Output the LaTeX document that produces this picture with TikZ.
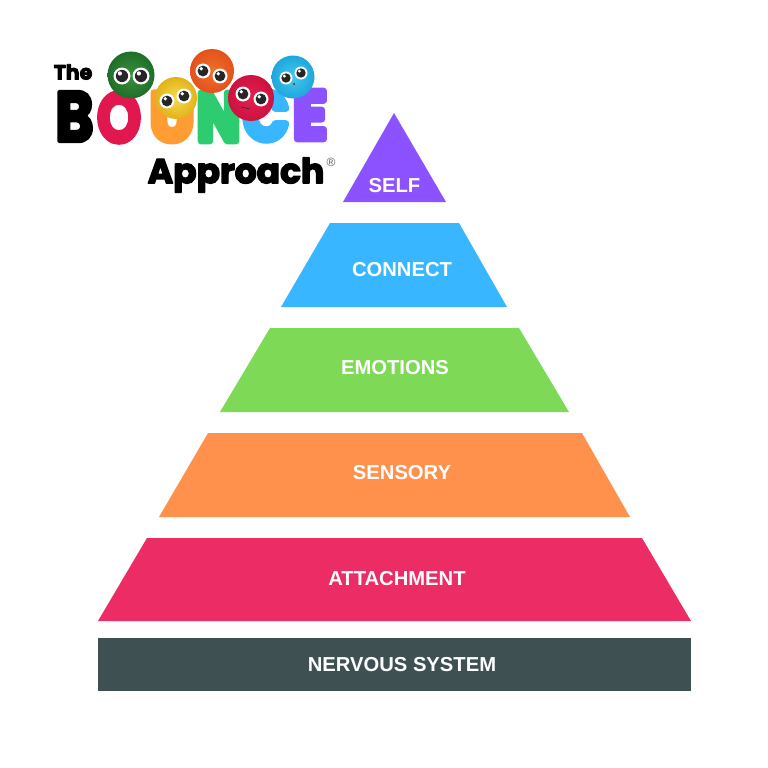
\documentclass[tikz,border=0pt]{standalone}
\usepackage{fontspec}
\setmainfont{Liberation Sans}
\newfontfamily\logofont[FakeBold=10]{Poppins Bold}
\newfontfamily\logothin[FakeBold=5]{Poppins Bold}
\newfontfamily\appfont[FakeBold=4]{Poppins Bold}
\definecolor{cself}{HTML}{8C52FF}
\definecolor{cconn}{HTML}{38B6FF}
\definecolor{cemo}{HTML}{7ED957}
\definecolor{csens}{HTML}{FF914D}
\definecolor{catt}{HTML}{EC2C64}
\definecolor{cnerv}{HTML}{3F5053}
\definecolor{lred}{HTML}{E3174F}
\definecolor{lorange}{HTML}{FF9D33}
\definecolor{lgreen}{HTML}{2ECC71}
\tikzset{
  tier/.style={fill=#1,draw=none},
  tierlabel/.style={text=white,font=\fontsize{20.2}{21}\selectfont\bfseries,inner sep=0pt,anchor=center},
  letter/.style={text=#1,inner sep=0pt,font=\fontsize{68}{68}\logofont,anchor=center,transform shape},
  thinletter/.style={text=#1,inner sep=0pt,font=\fontsize{71}{71}\logothin,anchor=center,transform shape},
  fuzzball/.style 2 args={inner color=#1,outer color=#2},
}
\newcommand{\eyeball}[3]{%
  \fill[white] (#1,#2) circle[radius=#3];
  \fill[black!85] (#1,#2) circle[radius=#3*0.72];
  \fill[white] (#1-#3*0.25,#2-#3*0.3) circle[radius=#3*0.25];
}
\begin{document}
\begin{tikzpicture}[x=1pt,y=-1pt]
\useasboundingbox (0,0) rectangle (768,768);
% pyramid
\fill[tier=cself] (394,113) -- (446,202) -- (343,202) -- cycle;
\fill[tier=cconn] (330,223) -- (459,223) -- (507,307) -- (281,307) -- cycle;
\fill[tier=cemo] (270,328) -- (519,328) -- (569,412) -- (220,412) -- cycle;
\fill[tier=csens] (208,433) -- (582,433) -- (630,517) -- (159,517) -- cycle;
\fill[tier=catt] (147,538) -- (642,538) -- (691,621) -- (98,621) -- cycle;
\fill[tier=cnerv] (98,638) rectangle (691,691);
\node[tierlabel] (self) at (394.5,185.5) {SELF};
\node[tierlabel] (connect) at (402,269.5) {CONNECT};
\node[tierlabel] (emotions) at (395,367.5) {EMOTIONS};
\node[tierlabel] (sensory) at (402,472.5) {SENSORY};
\node[tierlabel] (attachment) at (397,578.5) {ATTACHMENT};
\node[tierlabel] (nervous) at (402,664.5) {NERVOUS SYSTEM};
% logo letters
\begin{scope}[line join=round]
\node[text=black,inner sep=0pt,font=\fontsize{20.5}{21}\appfont] (the) at (73,72) {The};
\node[thinletter=black,xscale=.82] (lb) at (74.5,116.5) {B};
\node[thinletter=lred,xscale=.80] (lo) at (119,117.5) {O};
\node[letter=lorange,xscale=.92] (lu) at (172,117) {U};
\node[letter=lgreen,xscale=.84] (ln) at (218.5,117) {N};
\node[letter=cconn,xscale=.88] (lc) at (266,116) {C};
\node[letter=cself,xscale=.92] (le) at (310,115) {E};
\node[text=black,inner sep=0pt,font=\fontsize{34.5}{35}\appfont] (approach) at (236,175) {Approach};
\end{scope}
\node[text=black!65,inner sep=0pt,font=\fontsize{12}{12}\selectfont] (reg) at (331,162) {®};
% balls
\definecolor{bg1}{HTML}{38913A}\definecolor{bg2}{HTML}{1F6E2A}
\definecolor{by1}{HTML}{F7DC4E}\definecolor{by2}{HTML}{E2B21A}
\definecolor{bo1}{HTML}{F0702A}\definecolor{bo2}{HTML}{E2521C}
\definecolor{br1}{HTML}{E81E50}\definecolor{br2}{HTML}{CC1240}
\definecolor{bc1}{HTML}{3FCBEE}\definecolor{bc2}{HTML}{20A6DC}
\shade[fuzzball={bg1}{bg2}] (131,75) circle[radius=23.5];
\shade[fuzzball={by1}{by2}] (176,98) circle[radius=21];
\shade[fuzzball={bo1}{bo2}] (212,71) circle[radius=22];
\shade[fuzzball={br1}{br2}] (251,98) circle[radius=23];
\shade[fuzzball={bc1}{bc2}] (293,77) circle[radius=21.5];
\eyeball{122}{76}{8.5}
\eyeball{141}{76}{8.5}
\eyeball{167}{101}{7.5}
\eyeball{184}{96}{7.5}
\eyeball{203}{71}{7.5}
\eyeball{220}{76}{7.5}
\eyeball{243}{94}{7.5}
\eyeball{261}{99}{7.5}
\eyeball{286}{78}{6.5}
\eyeball{301}{73}{6.5}
\draw[black!80,line width=.8pt] (241,107) -- (250,109);
\fill[red!70!black] (294,84) circle[radius=1];
\end{tikzpicture}
\end{document}
